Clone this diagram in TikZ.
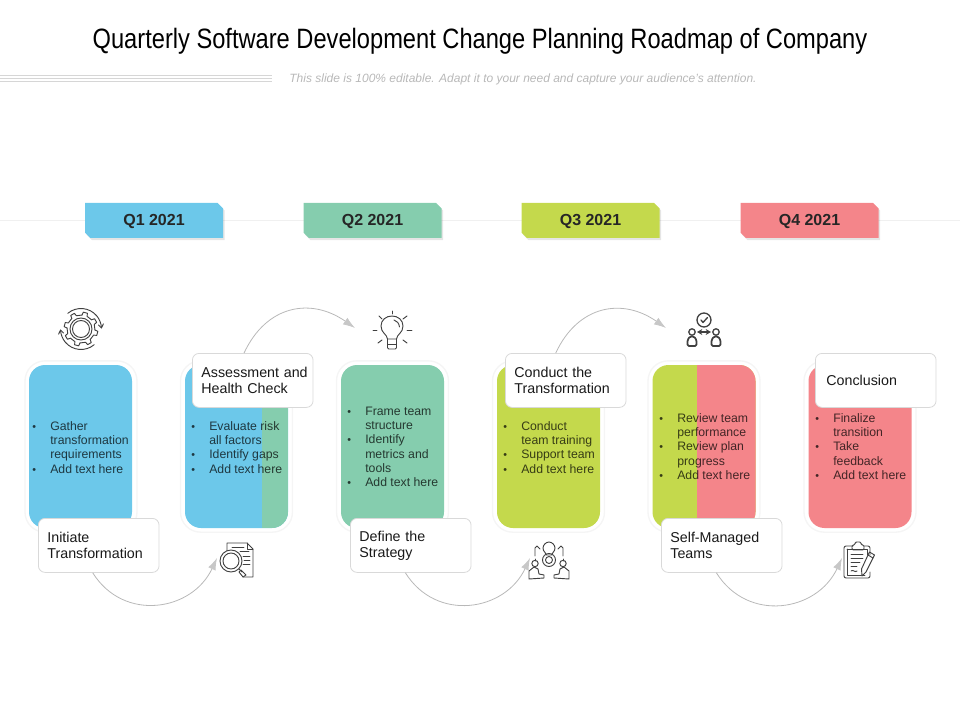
\documentclass[tikz,border=0pt]{standalone}
\usepackage{fontspec}
\setmainfont{Liberation Sans}
\newfontfamily\titlefont[FakeStretch=0.845]{Liberation Sans}
\usepackage{array}
\usetikzlibrary{shapes.misc}
\usetikzlibrary{shadows}
\usetikzlibrary{arrows.meta}

\definecolor{qblue}{HTML}{6CC8EA}
\definecolor{qgreen}{HTML}{85CDAE}
\definecolor{qlime}{HTML}{C4D94C}
\definecolor{qred}{HTML}{F4858A}
\definecolor{iconink}{HTML}{404040}

\newcommand{\bul}{{\fontsize{8}{8}\selectfont\textbullet}}

\tikzset{
  x=0.75pt, y=-0.75pt,
  tabbox/.style={chamfered rectangle, chamfered rectangle corners={north east,south west},
    chamfered rectangle xsep=2pt, chamfered rectangle ysep=2pt,
    minimum width=103.5pt, minimum height=26.25pt, inner sep=0pt, text height=10pt,
    font=\fontsize{12}{14}\selectfont\bfseries, text=black!85,
    drop shadow={shadow xshift=1.2pt, shadow yshift=-1.6pt, opacity=0.1, fill=black}},
  cardframe/.style={rectangle, rounded corners=15pt, draw=black!4, line width=1pt, fill=white,
    minimum width=84pt, minimum height=128.5pt},
  cardbox/.style={rectangle, rounded corners=12pt, minimum width=77.25pt, minimum height=122.25pt},
  cardtext/.style={anchor=north west, inner sep=0pt, text=black, text opacity=0.72,
    font=\fontsize{9.2}{10.75}\selectfont},
  labelbox/.style={rectangle, rounded corners=5pt, draw=black!15, line width=0.6pt, fill=white,
    anchor=north west, inner xsep=6.75pt, inner ysep=0pt, text width=77pt, align=left,
    minimum height=40.5pt, font=\fontsize{10.7}{12}\selectfont, text=black!90},
  arcline/.style={draw=black!28, line width=0.6pt, looseness=1.2, -{Latex[length=9pt,width=6pt,color=black!22]}},
  icon/.style={draw=iconink, line width=0.7pt, line join=round, line cap=round},
}

\begin{document}
\begin{tikzpicture}
  \useasboundingbox (0, 0) rectangle (960, 720);

  % heading
  \node (title) at (480, 41.5) {\titlefont\fontsize{21}{25}\selectfont Quarterly Software Development Change Planning Roadmap of Company};
  \draw[black!16, line width=0.6pt] (0, 75.5) -- (272, 75.5);
  \draw[black!16, line width=0.6pt] (0, 78.5) -- (272, 78.5);
  \draw[black!16, line width=0.6pt] (0, 81.5) -- (272, 81.5);
  \node[text=black!28, font=\fontsize{9}{11}\selectfont\itshape] (subtitle) at (523, 79.5) {This slide is 100\% editable. Adapt it to your need and capture your audience's attention.};

  % quarter tabs
  \draw[black!6, line width=0.6pt] (0, 220) -- (960, 220);
  \node[tabbox, fill=qblue] (tabA) at (154, 220.5) {Q1 2021};
  \node[tabbox, fill=qgreen] (tabB) at (372.5, 220.5) {Q2 2021};
  \node[tabbox, fill=qlime] (tabC) at (590.5, 220.5) {Q3 2021};
  \node[tabbox, fill=qred] (tabD) at (809.5, 220.5) {Q4 2021};

  % cards
  \foreach \cname/\cx in {A/81, B/236.5, C/392.5, D/548.5, E/704, F/860} {
    \node[cardframe] (frame\cname) at (\cx, 446.5) {};
  }
  \node[cardbox, fill=qblue] (cardA) at (80.5, 446.5) {};
  \node[cardbox, fill=qblue, path picture={
    \fill[qgreen, sharp corners] ([xshift=57.75pt]path picture bounding box.north west) rectangle (path picture bounding box.south east);}] (cardB) at (236.5, 446.5) {};
  \node[cardbox, fill=qgreen] (cardC) at (392.5, 446.5) {};
  \node[cardbox, fill=qlime] (cardD) at (548.5, 446.5) {};
  \node[cardbox, fill=qlime, path picture={
    \fill[qred, sharp corners] ([xshift=33pt]path picture bounding box.north west) rectangle (path picture bounding box.south east);}] (cardE) at (704, 446.5) {};
  \node[cardbox, fill=qred] (cardF) at (860, 446.5) {};

  \node[cardtext] (textA) at (32, 420) {\begin{tabular}{@{}p{13.5pt}@{}l@{}}
    \bul & Gather\\ & transformation\\ & requirements\\ \bul & Add text here\end{tabular}};
  \node[cardtext] (textB) at (191, 420) {\begin{tabular}{@{}p{13.5pt}@{}l@{}}
    \bul & Evaluate risk\\ & all factors\\ \bul & Identify gaps\\ \bul & Add text here\end{tabular}};
  \node[cardtext] (textC) at (347, 405) {\begin{tabular}{@{}p{13.5pt}@{}l@{}}
    \bul & Frame team\\ & structure\\ \bul & Identify\\ & metrics and\\ & tools\\ \bul & Add text here\end{tabular}};
  \node[cardtext] (textD) at (503, 420) {\begin{tabular}{@{}p{13.5pt}@{}l@{}}
    \bul & Conduct\\ & team training\\ \bul & Support team\\ \bul & Add text here\end{tabular}};
  \node[cardtext] (textE) at (659, 412) {\begin{tabular}{@{}p{13.5pt}@{}l@{}}
    \bul & Review team\\ & performance\\ \bul & Review plan\\ & progress\\ \bul & Add text here\end{tabular}};
  \node[cardtext] (textF) at (815, 412) {\begin{tabular}{@{}p{13.5pt}@{}l@{}}
    \bul & Finalize\\ & transition\\ \bul & Take\\ & feedback\\ \bul & Add text here\end{tabular}};

  % connectors
  \node[labelbox] (labelA) at (38, 518) {Initiate\\Transformation};
  \node[labelbox] (labelB) at (192, 353) {\mbox{Assessment and}\\Health Check};
  \node[labelbox] (labelC) at (350, 518) {Define the\\Strategy};
  \node[labelbox] (labelD) at (505, 353) {Conduct the\\Transformation};
  \node[labelbox] (labelE) at (661, 518) {Self-Managed\\Teams};
  \node[labelbox] (labelF) at (815, 353) {\hspace*{1.5pt}Conclusion};

  \coordinate (endA) at (217, 558);
  \coordinate (endB) at (355, 328);
  \coordinate (endC) at (530, 558);
  \coordinate (endD) at (666, 328);
  \coordinate (endE) at (842, 558);
  \draw[arcline] ([xshift=-4.5pt]labelA.south) to[out=-58, in=-115] (endA);
  \draw[arcline] ([xshift=-6.5pt]labelB.north) to[out=65, in=145] (endB);
  \draw[arcline] ([xshift=-4pt]labelC.south) to[out=-58, in=-115] (endC);
  \draw[arcline] ([xshift=-7.5pt]labelD.north) to[out=65, in=145] (endD);
  \draw[arcline] ([xshift=-4pt]labelE.south) to[out=-58, in=-115] (endE);

  % gear icon
  \begin{scope}[shift={(81, 329)}]
    \draw[icon] (0, 0) circle (8.5);
    \draw[icon] (0, 0) circle (11);
    \foreach \a in {0, 45, ..., 315} {
      \draw[icon] ({\a+4}:14) -- ({\a+8}:17) -- ({\a+22}:17) -- ({\a+26}:14) -- ({\a+49}:14);
    }
    \draw[icon] (-130:20.5) arc[start angle=-130, end angle=-3, radius=20.5];
    \draw[icon] (50:20.5) arc[start angle=50, end angle=177, radius=20.5];
    \draw[icon] (-13:18) -- (-3:20.5) -- (-13:23);
    \draw[icon] (167:18) -- (177:20.5) -- (167:23);
  \end{scope}

  % page and magnifier icon
  \begin{scope}[shift={(240, 560)}]
    \draw[icon] (-13, -9) -- (-13, -17) -- (7, -17) -- (13, -11) -- (13, 17) -- (3, 17);
    \draw[icon] (7, -17) -- (7, -11) -- (13, -11);
    \draw[icon] (-8, -13) -- (4, -13);
    \draw[icon] (0, -9) -- (9, -9);
    \draw[icon] (3, -4) -- (10, -4);
    \draw[icon] (4, 0) -- (10, 0);
    \draw[icon] (3, 4) -- (10, 4);
    \draw[icon] (-9, 1) circle (11);
    \draw[icon] (-9, 1) circle (8);
    \draw[icon] (-1, 9) -- (2, 12);
    \draw[icon] (1, 10) -- (6, 15) -- (3, 17) -- (-1, 12) -- cycle;
  \end{scope}

  % bulb icon
  \begin{scope}[shift={(392, 329)}]
    \draw[icon] (-4.5, 10) .. controls (-5, 5) and (-11, 4) .. (-11, -3)
      .. controls (-11, -9) and (-6, -13) .. (0, -13)
      .. controls (6, -13) and (11, -9) .. (11, -3)
      .. controls (11, 4) and (5, 5) .. (4.5, 10) -- cycle;
    \draw[icon, rounded corners=1pt] (-4.5, 10) -- (-4.5, 20) -- (4.5, 20) -- (4.5, 10);
    \draw[icon] (-4.5, 15) -- (4.5, 15);
    \draw[icon] (2, -9) .. controls (5, -8) and (7, -6) .. (7.5, -2);
    \draw[icon] (0, -18) -- (0, -15);
    \draw[icon] (-19, 1) -- (-15, 1);
    \draw[icon] (15, 1) -- (20, 1);
    \draw[icon] (-13, -13) -- (-10, -10);
    \draw[icon] (15, -13) -- (11, -10);
    \draw[icon] (-14, 14) -- (-10, 11);
    \draw[icon] (15, 14) -- (11, 11);
  \end{scope}

  % team with idea icon
  \begin{scope}[shift={(549, 562)}]
    \draw[icon] (-2.5, -7) .. controls (-3, -10) and (-6, -10) .. (-6, -14)
      .. controls (-6, -17) and (-3, -20) .. (0, -20)
      .. controls (3, -20) and (6, -17) .. (6, -14)
      .. controls (6, -10) and (3, -10) .. (2.5, -7) -- cycle;
    \draw[icon] (0, -2) circle (6.5);
    \draw[icon] (0, -2) circle (3.5);
    \draw[icon] (-14, -6) -- (-14, -14) -- (-12, -16) -- (-9, -13);
    \draw[icon] (14, -6) -- (14, -14) -- (12, -16) -- (9, -13);
    \draw[icon] (-14, -3) -- (-14, -1);
    \draw[icon] (14, -3) -- (14, -1);
    \draw[icon] (-14, 1.5) circle (3.2);
    \draw[icon] (14, 1.5) circle (3.2);
    \draw[icon] (-20, 17) -- (-20, 9) -- (-15, 5) -- (-11, 7) -- (-10, 12) -- (-5, 13) -- (-5, 16) -- cycle;
    \draw[icon] (20, 17) -- (20, 9) -- (15, 5) -- (11, 7) -- (10, 12) -- (5, 13) -- (5, 16) -- cycle;
  \end{scope}

  % two people with check icon
  \begin{scope}[shift={(704, 332)}]
    \draw[icon, line width=1pt] (0, -12) circle (7);
    \draw[icon, line width=1pt] (-3, -12) -- (-1, -9.5) -- (3.5, -14.5);
    \draw[icon, line width=1pt] (-12, 0) circle (3.2);
    \draw[icon, line width=1pt] (12, 0) circle (3.2);
    \draw[icon, line width=1.3pt, rounded corners=1pt] (-16.5, 14) -- (-16.5, 8) -- (-14, 4.5) -- (-10, 4.5) -- (-7.5, 8) -- (-7.5, 14) -- cycle;
    \draw[icon, line width=1.3pt, rounded corners=1pt] (7.5, 14) -- (7.5, 8) -- (10, 4.5) -- (14, 4.5) -- (16.5, 8) -- (16.5, 14) -- cycle;
    \draw[iconink, line width=0.9pt, {Stealth[length=4pt,width=4.5pt]}-{Stealth[length=4pt,width=4.5pt]}] (-7, 0) -- (7, 0);
  \end{scope}

  % clipboard and pencil icon
  \begin{scope}[shift={(858, 561)}]
    \draw[icon, rounded corners=1.5pt] (-5, -15) -- (-14, -15) -- (-14, 17) -- (12, 17) -- (12, 11);
    \draw[icon, rounded corners=1.5pt] (6, -15) -- (12, -15) -- (12, -6);
    \draw[icon] (-11, -12) -- (-11, 14) -- (7, 14);
    \draw[icon] (-11, -12) -- (9, -12) -- (9, -6);
    \draw[icon, rounded corners=1pt] (-6, -11) -- (-6, -16) -- (-3, -16) -- (-3, -19) -- (3, -19) -- (3, -16) -- (6, -16) -- (6, -11) -- cycle;
    \draw[icon] (-7, -7) -- (5, -7);
    \draw[icon] (-7, -3) -- (5, -3);
    \draw[icon] (-7, 1) -- (2, 1);
    \draw[icon] (-7, 5) -- (-1, 5);
    \draw[icon] (-7, 10) .. controls (-5, 8) and (-3, 12) .. (-1, 10);
    \draw[icon, fill=white] (10, -6) -- (15, -3) -- (8, 11) -- (4, 15) -- (3.5, 8) -- cycle;
    \draw[icon] (10, -6) -- (11.5, -9) -- (16.5, -6) -- (15, -3);
  \end{scope}
\end{tikzpicture}
\end{document}
